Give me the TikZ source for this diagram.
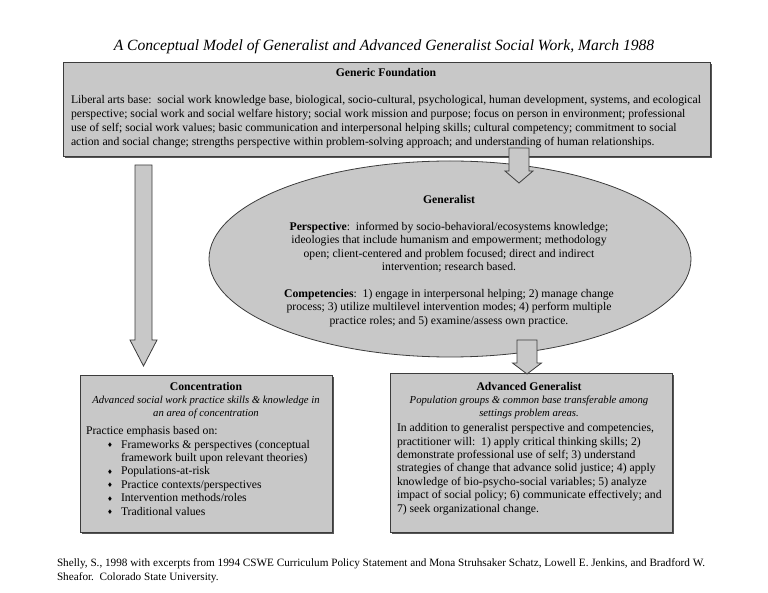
\documentclass[tikz,border=0pt]{standalone}
\usepackage{fontspec}
\setmainfont{Liberation Serif}
\newfontfamily\symfont{DejaVu Sans}
\usetikzlibrary{shapes.geometric,shadows}
\definecolor{boxfill}{RGB}{200,200,200}
\definecolor{boxline}{RGB}{60,60,60}
\definecolor{shadowc}{RGB}{85,85,85}
\newcommand\bodysize{\fontsize{11.7}{13.4}\selectfont}
\newcommand\subit[1]{{\fontsize{10.7}{13}\selectfont\itshape #1}}
\newcommand\cbul{\hspace*{21pt}\makebox[14pt][l]{\raisebox{0.5pt}{\symfont\fontsize{6.5}{6.5}\selectfont ♦}}}
\begin{document}
\begin{tikzpicture}[x=1pt,y=-1pt,
  panel/.style={draw=boxline, fill=boxfill, line width=0.8pt, inner sep=0pt, outer sep=0pt},
  shadowed/.style={drop shadow={shadow xshift=1.6pt, shadow yshift=-1.6pt, fill=shadowc, opacity=1}},
  blockarrow/.style={draw=boxline, fill=boxfill, line width=0.8pt, line join=miter},
  bodytext/.style={inner sep=0pt, outer sep=0pt, font=\bodysize},
]
\useasboundingbox (0,0) rectangle (768,593);

% title
\node[inner sep=0pt, font=\fontsize{15.6}{18}\selectfont\itshape, anchor=base] (title) at (384,51)
  {A Conceptual Model of Generalist and Advanced Generalist Social Work, March 1988};

% generic foundation box
\node[panel, shadowed, anchor=north west, minimum width=647pt, minimum height=94pt] (found) at (63,62) {};
\node[bodytext, font=\bodysize\bfseries, anchor=base] (foundhead) at (386,76.5) {Generic Foundation};
\node[bodytext, font=\fontsize{11.7}{14}\selectfont, anchor=north west, align=left] (foundbody) at (71,95.5)
  {Liberal arts base:\ \ social work knowledge base, biological, socio-cultural, psychological, human development, systems, and ecological\\
   perspective; social work and social welfare history; social work mission and purpose; focus on person in environment; professional\\
   use of self; social work values; basic communication and interpersonal helping skills; cultural competency; commitment to social\\
   action and social change; strengths perspective within problem-solving approach; and understanding of human relationships.};

% generalist ellipse
\node[panel, ellipse, minimum width=482pt, minimum height=196pt] (gen) at (450,259) {};
\node[bodytext, anchor=north, align=center] (gentext) at (449,195.5)
  {\textbf{Generalist}\\[13.4pt]
   \textbf{Perspective}:\ \ informed by socio-behavioral/ecosystems knowledge;\\
   ideologies that include humanism and empowerment; methodology\\
   open; client-centered and problem focused; direct and indirect\\
   intervention; research based.\\[13.4pt]
   \textbf{Competencies}:\ \ 1) engage in interpersonal helping; 2) manage change\\
   process; 3) utilize multilevel intervention modes; 4) perform multiple\\
   practice roles; and 5) examine/assess own practice.};

% concentration box
\node[panel, shadowed, anchor=north west, minimum width=252pt, minimum height=157pt] (conc) at (80,375) {};
\node[bodytext, anchor=north, align=center] (conchead) at (206,382)
  {\textbf{Concentration}\\
   \subit{Advanced social work practice skills \& knowledge in}\\
   \subit{an area of concentration}};
\node[bodytext, anchor=north west, align=left] (concbody) at (86,426.5)
  {Practice emphasis based on:\\
   \cbul Frameworks \& perspectives (conceptual\\
   \hspace*{35pt}framework built upon relevant theories)\\
   \cbul Populations-at-risk\\
   \cbul Practice contexts/perspectives\\
   \cbul Intervention methods/roles\\
   \cbul Traditional values};

% advanced generalist box
\node[panel, shadowed, anchor=north west, minimum width=282pt, minimum height=159pt] (adv) at (390,373) {};
\node[bodytext, anchor=north, align=center] (advhead) at (529,382)
  {\textbf{Advanced Generalist}\\
   \subit{Population groups \& common base transferable among}\\
   \subit{settings problem areas.}};
\node[bodytext, anchor=north west, align=left] (advbody) at (397,423.5)
  {In addition to generalist perspective and competencies,\\
   practitioner will:\ \ 1) apply critical thinking skills; 2)\\
   demonstrate professional use of self; 3) understand\\
   strategies of change that advance solid justice; 4) apply\\
   knowledge of bio-psycho-social variables; 5) analyze\\
   impact of social policy; 6) communicate effectively; and\\
   7) seek organizational change.};

% block arrows
\draw[blockarrow] (135,165) -- (152,165) -- (152,340) -- (157,340) -- (143.5,366) -- (130,340) -- (135,340) -- cycle;
\draw[blockarrow] (509,148) -- (529,148) -- (529,171) -- (533,171) -- (519,183) -- (505,171) -- (509,171) -- cycle;
\draw[blockarrow] (517,340) -- (537,340) -- (537,363) -- (541.5,363) -- (527,374) -- (512.5,363) -- (517,363) -- cycle;

% footer
\node[inner sep=0pt, outer sep=0pt, font=\fontsize{11.2}{14}\selectfont, anchor=north west, align=left] (footer) at (57,558.8)
  {Shelly, S., 1998 with excerpts from 1994 CSWE Curriculum Policy Statement and Mona Struhsaker Schatz, Lowell E. Jenkins, and Bradford W.\\
   Sheafor.\ \ Colorado State University.};
\end{tikzpicture}
\end{document}
